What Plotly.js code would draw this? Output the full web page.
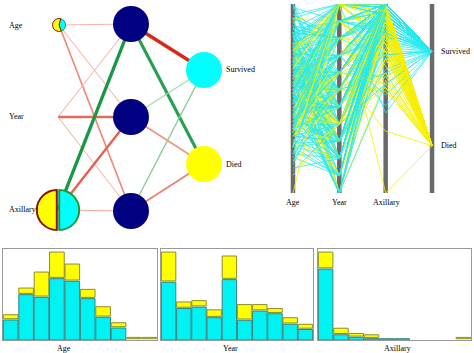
<!DOCTYPE html>
<html><head><meta charset="utf-8">
<script src="https://cdn.plot.ly/plotly-3.0.1.min.js"></script>
<style>html,body{margin:0;padding:0;background:#fff}#chart{width:474px;height:353px}</style>
</head><body><div id="chart"></div>
<script>
// ---------------- Neural network diagram ----------------
const inputNames = ['Age', 'Year', 'Axillary'];
const outputNames = ['Survived', 'Died'];
// rows: input node, cols: hidden node
const weightsInputHidden = [[-0.3, -0.3, -0.8], [-0.3, -1.2, -0.3], [2.0, -1.3, -0.4]];
// rows: hidden node, cols: output node
const weightsHiddenOutput = [[-2.0, 1.8], [0.3, -0.7], [0.6, -0.9]];
const ageNodeShares = [40, 60];        // survived, died
const axillaryNodeShares = [50, 50];   // survived, died

// ---------------- Histograms (counts per bin) ----------------
const histBins = [1, 2, 3, 4, 5, 6, 7, 8, 9, 10];
const ageSurvived = [15, 34, 32, 46, 44, 31, 17, 9, null, null];
const ageDied = [3, 4, 18, 19, 12, 6, 7, 3, 1, 1];
const yearSurvived = [44, 24, 25, 17, 46, 15, 22, 20, 12, 8];
const yearDied = [22, 4, 4, 5, 17, 11, 4, 3, 4, 3];
const axillarySurvived = [54, 4, 2, 1, 1, 1, null, null, null, null];
const axillaryDied = [12, 4, 2, 2, null, null, null, null, null, 1];

// ---------------- Parallel coordinates records ----------------
const ageGroup = [30,31,33,34,35,36,37,38,39,40,41,42,43,44,45,46,47,48,49,50,51,52,53,54,55,56,57,58,59,60,61,62,63,64,65,66,67,68,69,70,71,72,73,74,75,76,77,78,83];
const ageGroupSize = [3,2,2,7,2,2,6,10,6,3,10,9,11,7,9,7,11,7,10,12,6,14,11,12,10,7,11,7,8,6,9,7,8,5,10,5,6,2,4,7,1,4,2,2,1,1,1,1,1];
const recYear = [
64,62,65, 59,65, 58,60, 59,66,58,60,61,67,60, 64,63, 60,69, 60,63,58,59,60,63,
69,59,60,60,62,64,66,66,60,67, 66,63,67,58,59,63, 58,58,65,
60,64,67,58,59,59,64,69,65,65, 69,59,58,60,59,61,62,65,63,
58,59,64,64,63,64,64,60,63,65,66, 64,58,63,61,63,61,67, 65,66,67,60,67,59,64,68,67,
58,69,62,65,62,58,63, 63,62,65,61,63,66,67,58,60,68,66, 58,58,67,61,62,64,66,
63,64,61,62,66,60,62,63,61,67, 63,64,59,61,61,63,58,59,61,64,65,66, 59,59,64,59,65,66,
69,59,62,66,61,63,69,60,60,62,62,64,65,68, 58,65,59,60,63,65,58,60,60,61,63,
60,65,65,68,59,60,66,62,69,63,58,62, 63,68,58,58,58,66,66,69,69,67, 65,66,60,66,66,67,60,
61,62,64,64,69,61,62,63,64,64,67, 59,60,61,67,58,58,61, 62,60,63,64,64,64,64,67,
59,65,61,67,61,64, 62,65,68,59,59,64,65,68,59, 59,58,65,62,66,66,58, 60,61,62,63,63,66,61,61,
58,65,66,61,68, 58,61,62,66,58,64,67,59,64,67, 58,61,58,58,68, 64,63,66,66,61,65, 67,68,
67,60,65,66, 58,58,66,67,68,59,63, 68, 63,58,64,67, 62,68, 65,63, 62, 67, 65, 65, 58];
const recNodes = [
1,3,0, 2,4, 10,0, 0,9,30,1,10,7,0, 13,0, 1,0, 0,0,0,6,15,0,
21,2,0,0,3,1,0,11,1,5, 0,0,0,0,2,4, 2,0,0,
23,0,0,0,8,0,0,8,0,0, 1,0,0,1,2,4,20,0,1,
52,2,0,0,14,2,3,0,2,0,4, 6,9,19,0,1,0,16, 6,0,1,0,0,14,0,0,1,
2,3,5,20,0,3,0, 23,0,0,0,6,0,0,3,4,4,12, 11,11,7,8,2,0,0,
0,10,1,0,0,1,1,3,0,1, 13,0,0,6,0,1,1,2,0,0,4,1, 13,3,7,1,0,1,
3,2,3,4,0,4,0,4,5,0,1,0,0,0, 4,1,3,9,24,12,1,1,2,1,0,
11,23,5,7,7,3,0,0,7,19,1,0, 6,15,1,0,1,18,0,3,22,1, 9,3,0,2,1,0,0,
5,14,1,9,0,0,0,0,0,0,0, 0,3,1,0,0,3,2, 35,0,0,1,4,0,7,3,
17,0,1,2,25,0, 5,0,1,0,0,0,8,0,0, 13,0,19,6,0,0,0, 1,0,0,0,0,0,9,28,
0,22,0,0,0, 0,2,22,15,0,0,0,2,0,1, 0,13,0,1,0, 8,1,0,0,0,0, 0,0,
8,0,0,0, 0,4,14,0,0,8,0, 2, 0,0,0,3, 0,0, 3,0, 1, 0, 3, 1, 2];
const recStatus = [
1,1,1, 1,1, 1,1, 2,2,1,1,1,1,1, 1,1, 1,1, 1,1,1,1,1,1,
2,1,1,1,1,1,1,1,1,1, 2,1,1,1,1,1, 1,1,1,
2,2,2,1,1,1,1,1,1,1, 2,2,1,1,1,1,1,1,1,
2,2,2,2,1,1,1,1,1,1,1, 2,2,2,1,1,1,1, 2,2,2,1,1,1,1,1,1,
2,2,2,2,1,1,1, 2,2,2,1,1,1,1,1,1,1,1, 2,2,2,1,1,1,1,
2,2,1,1,1,1,1,1,1,1, 2,2,1,1,1,1,1,1,1,1,1,1, 2,2,1,1,1,1,
2,2,2,2,1,1,1,1,1,1,1,1,1,1, 2,2,2,2,2,2,1,1,1,1,1,
2,2,2,2,1,1,1,1,1,1,1,1, 2,2,1,1,1,1,1,1,1,1, 2,2,1,1,1,1,1,
2,2,2,1,1,1,1,1,1,1,1, 1,1,1,1,1,1,1, 2,1,1,1,1,1,1,1,
2,2,1,1,1,1, 2,2,2,1,1,1,1,1,1, 2,2,2,1,1,1,1, 2,1,1,1,1,1,1,1,
1,1,1,1,1, 2,2,2,2,1,1,1,1,1,1, 2,2,1,1,1, 2,2,1,1,1,1, 1,1,
2,1,1,1, 2,2,1,1,1,1,1, 1, 2,1,1,1, 1,1, 2,1, 1, 1, 1, 2, 2];
const statusNames = ['Survived', 'Died'];

// ======== helpers (layout in pixels of the 474x353 canvas) ========
const W = 474, H = 353;
const px = p => p / W;
const py = p => 1 - p / H;
const serif = 'Liberation Serif, Times New Roman, serif';
const CYAN = '#00ffff', YELLOW = '#ffff00';

const traces = [];
const shapes = [];
const annotations = [];
const label = (text, x, y, xanchor) => annotations.push({
  text, x: px(x), y: py(y), xref: 'paper', yref: 'paper', showarrow: false,
  xanchor: xanchor || 'center', yanchor: 'middle', font: {family: serif, size: 8, color: '#000'}
});

// ---- network ----
const inPos = [[59, 25], [58, 117], [58, 210]];
const hidPos = [[131, 24], [131, 117], [131, 211]];
const outPos = [[204, 70], [204, 164]];
function edgeColor(w) {
  const t = Math.min(Math.abs(w) / 2, 1);
  const a = w < 0 ? [252, 205, 190] : [185, 228, 185];
  const b = w < 0 ? [215, 40, 25] : [25, 150, 70];
  const c = a.map((v, i) => Math.round(v + (b[i] - v) * t));
  return `rgb(${c.join(',')})`;
}
function edge(p, q, w) {
  traces.push({type: 'scatter', mode: 'lines', x: [p[0], q[0]], y: [p[1], q[1]],
    xaxis: 'x', yaxis: 'y', hoverinfo: 'skip', showlegend: false,
    line: {color: edgeColor(w), width: 0.6 + 1.4 * Math.abs(w)}});
}
weightsInputHidden.forEach((row, i) => row.forEach((w, j) => edge(inPos[i], hidPos[j], w)));
weightsHiddenOutput.forEach((row, j) => row.forEach((w, k) => edge(hidPos[j], outPos[k], w)));
traces.push({type: 'scatter', mode: 'markers', x: hidPos.map(p => p[0]), y: hidPos.map(p => p[1]),
  xaxis: 'x', yaxis: 'y', hoverinfo: 'skip', showlegend: false,
  marker: {size: 36, color: '#000080', line: {width: 0}}});
traces.push({type: 'scatter', mode: 'markers', x: outPos.map(p => p[0]), y: outPos.map(p => p[1]),
  xaxis: 'x', yaxis: 'y', hoverinfo: 'skip', showlegend: false,
  marker: {size: 36, color: [CYAN, YELLOW], line: {width: 0}}});
// input nodes as pies
function pieNode(c, r, pull, values, lw, rotation) {
  const half = r * (1 + pull);
  traces.push({type: 'pie', values, sort: false, direction: 'clockwise', rotation,
    domain: {x: [px(c[0] - half), px(c[0] + half)], y: [py(c[1] + half), py(c[1] - half)]},
    pull: [pull, pull], textinfo: 'none', hoverinfo: 'skip', showlegend: false,
    marker: {colors: [CYAN, YELLOW], line: {color: ['#1f9a3a', '#8b1010'], width: lw}}});
}
pieNode(inPos[0], 6.5, 0, ageNodeShares, 1, 15);
pieNode(inPos[2], 20, 0.06, axillaryNodeShares, 2, 0);
inputNames.forEach((n, i) => label(n, 7, inPos[i][1], 'left'));
outputNames.forEach((n, k) => label(n, 224, outPos[k][1], 'left'));

// ---- parallel coordinates ----
const recAge = [];
ageGroup.forEach((a, i) => { for (let k = 0; k < ageGroupSize[i]; k++) recAge.push(a); });
const dimRanges = [[30, 83], [58, 69], [0, 52], [0.5, 2.5]];
const norm = (v, d) => (v - dimRanges[d][0]) / (dimRanges[d][1] - dimRanges[d][0]);
const nRec = Math.min(recAge.length, recYear.length, recNodes.length, recStatus.length);
const lineColor = {1: 'rgba(40,232,238,0.85)', 2: 'rgba(246,240,0,0.9)'};
for (let i = 0; i < nRec; i++) {
  const vals = [recAge[i], recYear[i], recNodes[i], recStatus[i]];
  traces.push({type: 'scatter', mode: 'lines', x: [0, 1, 2, 3], y: vals.map((v, d) => norm(v, d)),
    xaxis: 'x2', yaxis: 'y2', hoverinfo: 'skip', showlegend: false,
    line: {color: lineColor[recStatus[i]], width: 0.9}});
}
for (let d = 0; d < 4; d++) {
  shapes.push({type: 'line', xref: 'x2', yref: 'y2', x0: d, x1: d, y0: 0, y1: 1, layer: 'below',
    line: {color: '#6a6a6a', width: 4.5}});
}
const axisX = [293, 339, 386];
['Age', 'Year', 'Axillary'].forEach((n, i) => label(n, axisX[i], 202));
statusNames.forEach((n, k) => label(n, 439, 4 + 189 * norm(k + 1, 3), 'left'));

// ---- histograms ----
const hist = [
  {s: ageSurvived, d: ageDied, x: [3, 157], title: 'Age', tx: 64},
  {s: yearSurvived, d: yearDied, x: [161, 313], title: 'Year', tx: 230},
  {s: axillarySurvived, d: axillaryDied, x: [318, 471], title: 'Axillary', tx: 397}
];
const layoutAxes = {};
hist.forEach((h, i) => {
  const n = i + 3;
  const totals = h.s.map((v, k) => (v || 0) + (h.d[k] || 0));
  const top = Math.max(...totals) * 1.05;
  const gap = top * 0.014;
  const idx = histBins.map((b, k) => k);
  traces.push({type: 'bar', x: idx, y: h.s, xaxis: 'x' + n, yaxis: 'y' + n, hoverinfo: 'skip',
    showlegend: false, marker: {color: '#00f2f2', line: {color: '#3c8080', width: 1}}});
  traces.push({type: 'bar', x: idx, y: h.d, base: h.s.map(v => (v || 0) + gap), xaxis: 'x' + n, yaxis: 'y' + n,
    hoverinfo: 'skip', showlegend: false, marker: {color: '#ffff00', line: {color: '#8c8c30', width: 1}}});
  const ax = {showgrid: false, zeroline: false, showticklabels: false, ticks: '', showline: true,
    mirror: true, linecolor: '#9a9a9a', linewidth: 1, fixedrange: true};
  layoutAxes['xaxis' + n] = Object.assign({}, ax, {domain: [px(h.x[0]), px(h.x[1])], range: [-0.5, 9.5], anchor: 'y' + n});
  layoutAxes['yaxis' + n] = Object.assign({}, ax, {domain: [py(340), py(249)], range: [0, top], anchor: 'x' + n});
  label(h.title, h.tx, 348);
});

const layout = Object.assign({
  width: W, height: H, margin: {l: 0, r: 0, t: 0, b: 0, pad: 0},
  paper_bgcolor: '#fff', plot_bgcolor: 'rgba(0,0,0,0)', showlegend: false,
  barmode: 'overlay', bargap: 0.05,
  font: {family: serif, size: 8, color: '#000'},
  xaxis: {domain: [0, px(262)], range: [0, 262], visible: false, fixedrange: true},
  yaxis: {domain: [py(240), 1], range: [240, 0], visible: false, fixedrange: true},
  xaxis2: {domain: [px(293 - 23.2), px(432 + 23.2)], range: [-0.5, 3.5], visible: false, anchor: 'y2'},
  yaxis2: {domain: [py(193), py(4)], range: [1, 0], visible: false, anchor: 'x2'},
  shapes, annotations
}, layoutAxes);

Plotly.newPlot('chart', traces, layout, {staticPlot: true, displayModeBar: false});
</script>
</body></html>
